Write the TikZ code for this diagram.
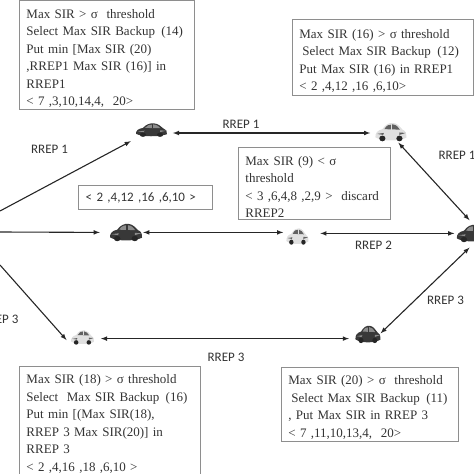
\documentclass[tikz,border=0pt]{standalone}
\usepackage{fontspec}
\setmainfont{Liberation Serif}
\newfontfamily\labelfont{Carlito}
\usepackage{tikz}
\usetikzlibrary{positioning}
\definecolor{boxgray}{HTML}{8E8E8E}
\definecolor{inkgray}{HTML}{333333}
\newcommand{\carbody}[2]{%
\fill[#1] (-1,-.55) .. controls (-1.02,-.1) and (-.85,.2) .. (-.55,.3) .. controls (-.35,.8) and (-.1,1) .. (.15,.95) .. controls (.45,.9) and (.6,.5) .. (.75,.25) .. controls (.95,.15) and (1.02,-.2) .. (1,-.6) .. controls (.5,-1) and (-.6,-1) .. (-1,-.55) -- cycle;
\fill[#2] (-.42,.3) .. controls (-.3,.7) and (-.1,.82) .. (.12,.8) .. controls (.35,.78) and (.48,.5) .. (.58,.25) -- cycle;
\fill[#1] (.02,.85) rectangle (.1,.25);
\fill[#2] (-.9,-.2) -- (-.45,-.1) -- (-.5,-.3) -- cycle;
\fill[#2] (.95,-.1) -- (.55,-.05) -- (.55,-.3) -- cycle;
\fill[black!85] (-.55,-.68) circle[x radius=.2, y radius=.3];
\fill[black!85] (.55,-.68) circle[x radius=.2, y radius=.3];}
\newcommand{\gapb}{~\hspace{2pt}}
\tikzset{carnode/.style n args={4}{minimum width=#1, minimum height=#2, inner sep=0pt, path picture={\begin{scope}[shift={(path picture bounding box.center)}, x=#1/2, y=#2/2]\carbody{#3}{#4}\end{scope}}},
darkcar/.style 2 args={carnode={#1}{#2}{black!78}{black!45}},
silvercar/.style 2 args={carnode={#1}{#2}{black!12}{black!62}},
infobox/.style={draw=boxgray, line width=0.9pt, text=inkgray, align=left, inner xsep=7pt, inner ysep=0pt, font=\fontsize{13}{17.5}\selectfont},
sirbox/.style={infobox, execute at end node={\par\vspace*{-7pt}}},
rreplabel/.style={text=inkgray, inner sep=0pt, font=\labelfont\fontsize{13}{15}\selectfont},
rreparrow/.style={->, >=latex, line width=1.1pt, black!85},
rrepboth/.style={rreparrow, <->}}
\begin{document}
\begin{tikzpicture}[x=1pt, y=-1pt]
\clip (0,0) rectangle (474,474);
\node[darkcar={31pt}{14pt}] (car1) at (151.5,130) {};
\node[silvercar={31pt}{19pt}, right=208pt of car1, yshift=-2pt] (car2) {};
\node[darkcar={32pt}{18pt}, below=86pt of car1, xshift=-25.5pt] (car3) {};
\node[silvercar={22pt}{17pt}, right=144pt of car3, yshift=-4pt] (car4) {};
\node[darkcar={32pt}{18pt}, right=148pt of car4, yshift=3pt] (car5) {};
\node[silvercar={23pt}{15pt}, below=88pt of car3, xshift=-43.5pt] (car6) {};
\node[darkcar={25pt}{18pt}, right=261pt of car6, yshift=3pt] (car7) {};
\coordinate (srcup) at (0,211);
\coordinate (srcmid) at (0,232);
\coordinate (srcdown) at (0,265);
\node[sirbox, text width=160.5pt, minimum height=109.5pt, above=12.5pt of car1, xshift=-44.75pt] (boxa) {Max SIR > σ~~threshold\\Select Max SIR Backup\gapb(14)\\Put min [Max SIR (20)\\,RREP1 Max SIR (16)] in\\RREP1\\< 7 ,3,10,14,4,~~20>};
\node[sirbox, text width=166.7pt, minimum height=76.5pt, above=26pt of car2, xshift=-8.15pt] (boxb) {Max SIR (16) > σ threshold\\\hspace{3pt}Select Max SIR Backup\gapb(12)\\Put Max SIR (16) in RREP1\\< 2 ,4,12 ,16 ,6,10>};
\node[sirbox, text width=138pt, minimum height=71.2pt, above=8.3pt of car4, xshift=17pt] (boxc) {Max SIR (9) < σ\\threshold\\< 3 ,6,4,8 ,2,9 >~~discard\\RREP2};
\node[infobox, text width=120pt, minimum height=24pt, font=\labelfont\fontsize{13}{15}\selectfont, above=13.3pt of car3, xshift=19.7pt] (boxd) {< 2 ,4,12 ,16 ,6,10 >};
\node[sirbox, text width=166.5pt, minimum height=108pt, below=21pt of car6, xshift=27.25pt] (boxe) {Max SIR (18) > σ threshold\\Select~~Max SIR Backup\gapb(16)\\Put min [(Max SIR(18),\\RREP 3 Max SIR(20)] in\\RREP 3\\< 2 ,4,16 ,18 ,6,10 >};
\node[sirbox, text width=163pt, minimum height=74pt, below=23pt of car7, xshift=2pt] (boxf) {Max SIR (20) > σ~~threshold\\\hspace{3pt}Select Max SIR Backup\gapb(11)\\, Put Max SIR in RREP 3\\< 7 ,11,10,13,4,~~20>};
\node[rreplabel] (lblup) at (49.5,149) {RREP 1};
\node[rreplabel] (lbltop) at (241,124) {RREP 1};
\node[rreplabel] (lblright) at (457,155) {RREP 1};
\node[rreplabel] (lblmid) at (373.5,245.5) {RREP 2};
\node[rreplabel] (lbldown) at (0,319) {RREP 3};
\node[rreplabel] (lblbottom) at (226,357) {RREP 3};
\node[rreplabel] (lblrise) at (445.5,300) {RREP 3};
\draw[rreparrow] (srcup) -- ([xshift=-5pt,yshift=-4pt]car1.south west);
\draw[rreparrow] (srcmid) -- ([xshift=-10pt]car3.west);
\draw[rreparrow] (srcdown) -- ([xshift=-4.3pt,yshift=-2.7pt]car6.west);
\draw[rrepboth] ([xshift=5.7pt,yshift=-3pt]car1.east) -- ([xshift=-5pt,yshift=-1pt]car2.west);
\draw[rrepboth] ([xshift=1pt]car3.east) -- ([xshift=-3pt,yshift=4pt]car4.west);
\draw[rrepboth] ([xshift=11.7pt,yshift=3pt]car4.east) -- ([xshift=-2.3pt]car5.west);
\draw[rrepboth] ([xshift=7.5pt,yshift=-1pt]car2.south) -- ([xshift=-3.3pt,yshift=4pt]car5.north);
\draw[rrepboth] ([yshift=1pt]car7.east) -- ([xshift=-3.3pt,yshift=-5pt]car5.south);
\draw[rrepboth] ([xshift=6.7pt,yshift=-1.3pt]car6.east) -- ([xshift=-6.3pt,yshift=-4.3pt]car7.west);
\end{tikzpicture}
\end{document}
